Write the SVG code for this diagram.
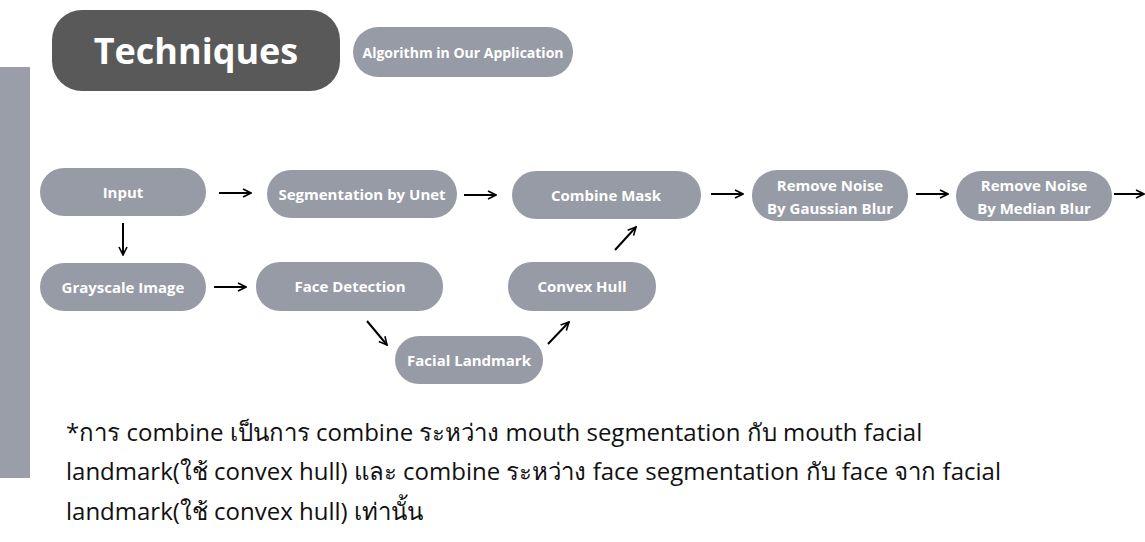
<svg xmlns="http://www.w3.org/2000/svg" width="1145" height="542" viewBox="0 0 1145 542">
<style>
.n{fill:#979ba5}
.t{fill:#fff;font-family:"Open Sans","Noto Sans",sans-serif;font-weight:bold;font-size:15px;text-anchor:middle}
.c line{stroke:#000;stroke-width:2;marker-end:url(#a)}
.b{font-family:"Open Sans","Noto Sans","DejaVu Sans",sans-serif;font-size:24px;fill:#111}
</style>
<defs><marker id="a" viewBox="0 0 10 10" refX="9" refY="5" markerWidth="5" markerHeight="5" orient="auto"><path d="M1,1L9,5L1,9" fill="none" stroke="#000" stroke-width="1.6"/></marker></defs>
<rect width="1145" height="542" fill="#fff"/>
<rect x="0" y="67" width="30" height="411" fill="#9a9ea8"/>
<g id="title"><rect x="52" y="10" width="288" height="81" rx="30" fill="#595959"/><text x="196" y="64" class="t" style="font-size:36px">Techniques</text></g>
<g id="algo"><rect x="353" y="27" width="220" height="50" rx="25" class="n"/><text x="463" y="58" class="t" style="font-size:14px">Algorithm in Our Application</text></g>
<g id="input"><rect x="40" y="168" width="166" height="48" rx="24" class="n"/><text x="123" y="198" class="t">Input</text></g>
<g id="seg"><rect x="267" y="170" width="190" height="48" rx="24" class="n"/><text x="362" y="200" class="t">Segmentation by Unet</text></g>
<g id="combine"><rect x="512" y="171" width="189" height="48" rx="24" class="n"/><text x="606" y="201" class="t">Combine Mask</text></g>
<g id="gauss"><rect x="752" y="170" width="156" height="51" rx="25" class="n"/><text x="830" y="191" class="t">Remove Noise</text><text x="830" y="214" class="t">By Gaussian Blur</text></g>
<g id="median"><rect x="956" y="171" width="156" height="50" rx="25" class="n"/><text x="1034" y="191" class="t">Remove Noise</text><text x="1034" y="214" class="t">By Median Blur</text></g>
<g id="gray"><rect x="40" y="263" width="166" height="48" rx="24" class="n"/><text x="123" y="293" class="t">Grayscale Image</text></g>
<g id="face"><rect x="256" y="262" width="187" height="49" rx="24" class="n"/><text x="350" y="292" class="t">Face Detection</text></g>
<g id="hull"><rect x="508" y="262" width="148" height="49" rx="24" class="n"/><text x="582" y="292" class="t">Convex Hull</text></g>
<g id="landmark"><rect x="395" y="336" width="148" height="48" rx="24" class="n"/><text x="469" y="366" class="t">Facial Landmark</text></g>
<g class="c">
<line x1="219" y1="193" x2="251" y2="193"/>
<line x1="464" y1="195" x2="496" y2="195"/>
<line x1="711" y1="194" x2="743" y2="194"/>
<line x1="916" y1="194" x2="948" y2="194"/>
<line x1="1114" y1="194" x2="1144" y2="194"/>
<line x1="123" y1="223" x2="123" y2="255"/>
<line x1="214" y1="287" x2="246" y2="287"/>
<line x1="367" y1="321" x2="387" y2="345"/>
<line x1="548" y1="344" x2="569" y2="322"/>
<line x1="615" y1="250" x2="636" y2="227"/>
</g>
<text class="b" x="66" y="441">*การ combine เป็นการ combine ระหว่าง mouth segmentation กับ mouth facial</text>
<text class="b" x="66" y="480">landmark(ใช้ convex hull) และ combine ระหว่าง face segmentation กับ face จาก facial</text>
<text class="b" x="66" y="520">landmark(ใช้ convex hull) เท่านั้น</text>
</svg>
